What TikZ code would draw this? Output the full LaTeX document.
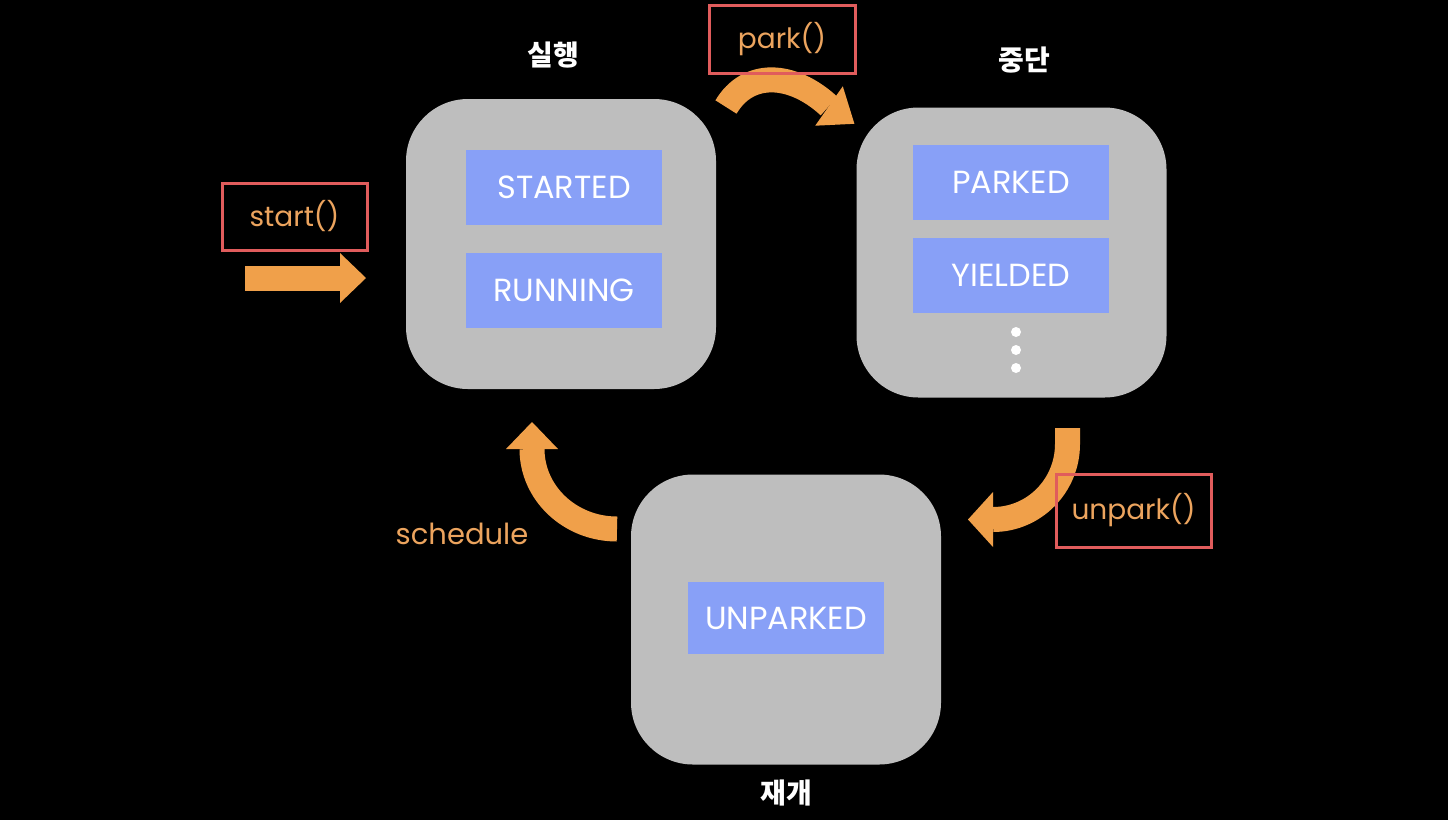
\documentclass[tikz,border=0pt]{standalone}
\usepackage{fontspec}
\setmainfont{Poppins}
\newfontfamily\kr{Noto Sans CJK KR}
\definecolor{stategray}{RGB}{190,190,190}
\definecolor{subblue}{RGB}{136,160,247}
\definecolor{flowor}{RGB}{240,160,74}
\definecolor{labelor}{RGB}{236,164,94}
\definecolor{callred}{RGB}{224,92,92}
\tikzset{
  state/.style={fill=stategray, rounded corners=62pt, minimum width=310pt, minimum height=290pt, inner sep=0pt},
  sub/.style={fill=subblue, text=white, minimum width=196pt, minimum height=75pt, inner sep=0pt, font=\fontsize{32}{38}\selectfont},
  title/.style={text=white, inner sep=0pt, font=\kr\bfseries\fontsize{28}{32}\selectfont},
  call/.style={draw=callred, line width=3pt, text=labelor, inner sep=0pt, font=\fontsize{28}{32}\selectfont},
  lbl/.style={text=labelor, inner sep=0pt, font=\fontsize{29}{33}\selectfont},
  flow/.style={draw=flowor, line width=25pt},
  head/.style={fill=flowor},
  dot/.style={circle, fill=white, minimum size=10pt, inner sep=0pt}
}
\begin{document}
\begin{tikzpicture}[x=1pt,y=1pt]
\fill[black] (0,0) rectangle (1448,-820);
\useasboundingbox (0,0) rectangle (1448,-820);

% state boxes
\node[state] (run) at (561,-244) {};
\node[state] (park) at (1011.5,-252.5) {};
\node[state] (unp) at (786,-619.5) {};

% sub states
\node[sub] (started) at (564,-187.5) {STARTED};
\node[sub] (running) at (564,-290.5) {RUNNING};
\node[sub] (parked) at (1011,-182.5) {PARKED};
\node[sub] (yielded) at (1011,-275.5) {YIELDED};
\node[sub, minimum height=72pt] (unparked) at (786,-618) {UNPARKED};
\node[dot] (d1) at (1016,-332) {};
\node[dot] (d2) at (1016,-350) {};
\node[dot] (d3) at (1016,-368) {};

% titles
\node[title] (t1) at (553,-55) {실행};
\node[title] (t2) at (1024,-60) {중단};
\node[title] (t3) at (786,-793) {재개};

% arrows
\coordinate (s0) at (245,-278);
\coordinate (s1) at (341,-278);
\draw[flow] (s0) -- (s1);
\fill[head] (340,-253) -- (366,-278) -- (340,-303) -- cycle;

\coordinate (p0) at (726,-107);
\coordinate (p1) at (829,-106);
\draw[flow] (p0) .. controls (748,-70) and (792,-72) .. (p1);
\fill[head] (842.8,-86.3) -- (854.4,-123.8) -- (815.2,-125.7) -- cycle;

\coordinate (u0) at (1067.5,-428);
\coordinate (u1) at (993,-519.5);
\draw[flow] (u0) -- (1067.5,-444) arc[start angle=0, end angle=-90, x radius=74.5pt, y radius=75.5pt];
\fill[head] (993,-492) -- (968,-519.5) -- (993,-547) -- cycle;

\coordinate (c0) at (617,-529);
\draw[flow] (c0) arc[start angle=270, end angle=180, x radius=85pt, y radius=80pt];
\fill[head] (506,-449) -- (532,-422) -- (558,-449) -- cycle;

% calls
\node[call, minimum width=146pt, minimum height=68pt] (parkcall) at (782,-39) {park()};
\node[call, minimum width=145pt, minimum height=67pt] (startcall) at (294.5,-216.5) {start()};
\node[call, minimum width=155pt, minimum height=73pt] (unparkcall) at (1133.5,-510.5) {unpark()};
\node[lbl] (sched) at (462,-534) {schedule};
\end{tikzpicture}
\end{document}
